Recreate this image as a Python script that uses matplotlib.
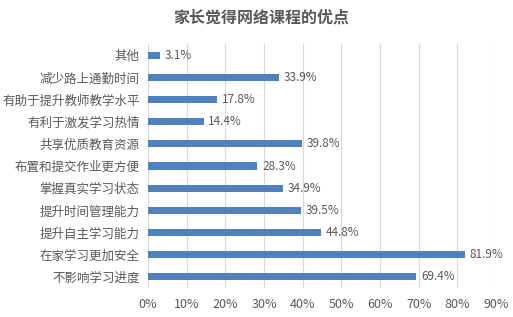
import matplotlib
matplotlib.use("Agg")
import matplotlib.pyplot as plt
from matplotlib.ticker import FuncFormatter

plt.rcParams['font.family'] = ['Noto Sans CJK SC', 'DejaVu Sans']

# data, bottom to top
categories = ['不影响学习进度', '在家学习更加安全', '提升自主学习能力', '提升时间管理能力',
              '掌握真实学习状态', '布置和提交作业更方便', '共享优质教育资源', '有利于激发学习热情',
              '有助于提升教师教学水平', '减少路上通勤时间', '其他']
values = [69.4, 81.9, 44.8, 39.5, 34.9, 28.3, 39.8, 14.4, 17.8, 33.9, 3.1]
x_ticks = [0, 10, 20, 30, 40, 50, 60, 70, 80, 90]

text_col = '#595959'
bar_col = '#4F81BD'

fig = plt.figure(figsize=(5.13, 3.17), dpi=100)
ax = fig.add_axes([0.2885, 0.0915, 0.6785, 0.7695])

y = list(range(len(categories)))
ax.barh(y, values, height=0.32, color=bar_col, zorder=3)
for yi, v in zip(y, values):
    ax.text(v + 1.2, yi, f'{v:.1f}%', va='center', ha='left', fontsize=8.5, color=text_col)

ax.set_xlim(0, 90)
ax.set_ylim(-0.5, len(categories) - 0.5)
ax.set_xticks(x_ticks)
ax.xaxis.set_major_formatter(FuncFormatter(lambda v, p: f'{v:.0f}%'))
ax.set_yticks(y)
ax.set_yticklabels(categories)
ax.tick_params(axis='both', length=0, labelsize=9, colors=text_col)
ax.tick_params(axis='x', pad=7)
ax.tick_params(axis='y', pad=6)
ax.grid(axis='x', color='#D9D9D9', linewidth=0.8, zorder=0)
for s in ax.spines.values():
    s.set_visible(False)

fig.text(0.51, 0.945, '家长觉得网络课程的优点', ha='center', va='center',
         fontsize=11.5, fontweight='bold', color=text_col)

fig.savefig('out.png', dpi=100)
